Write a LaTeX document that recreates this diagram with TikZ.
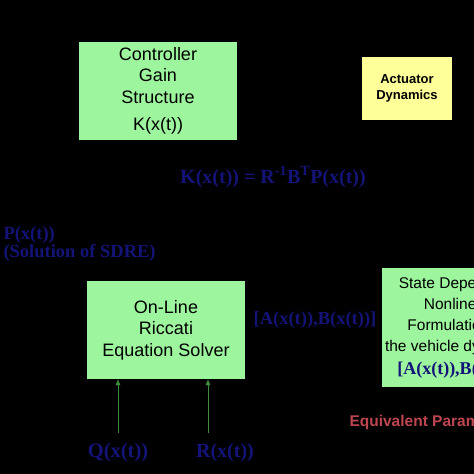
\documentclass[tikz,border=0pt]{standalone}
\usepackage{fontspec}
\setmainfont{Liberation Serif}
\newfontfamily\arial{Liberation Sans}
\usetikzlibrary{arrows.meta,positioning}
\definecolor{boxgreen}{RGB}{157,245,157}
\definecolor{boxyellow}{RGB}{255,255,153}
\definecolor{eqnavy}{RGB}{20,20,120}
\definecolor{arrgreen}{RGB}{60,140,60}
\definecolor{paramred}{RGB}{190,70,80}

\begin{document}
\begin{tikzpicture}[x=1pt,y=-1pt,
	gbox/.style={draw=none, fill=boxgreen, inner sep=0pt, align=center, font=\arial\fontsize{18}{21.5}\selectfont},
	eqtext/.style={text=eqnavy, font=\bfseries\fontsize{19.5}{19.5}\selectfont}]
	\fill[black] (0,0) rectangle (474,474);
	\clip (0,0) rectangle (474,474);
	\node (ctrl) [gbox, minimum width=158pt, minimum height=98pt] at (158,91) {Controller\\Gain\\Structure\\[6pt]K(x(t))};
	\node (act) [fill=boxyellow, inner sep=0pt, minimum width=90pt, minimum height=63pt, align=center, font=\arial\bfseries\fontsize{13}{16}\selectfont] at (407,88.5) {Actuator\\Dynamics};
	\node (gain) [eqtext, font=\bfseries\fontsize{20}{20}\selectfont] at (273,177) {K(x(t)) = R\textsuperscript{-1}B\textsuperscript{T}P(x(t))};
	\node (sol) [eqtext, anchor=west, align=left, font=\bfseries\fontsize{18.5}{18.5}\selectfont] at (0,244) {P(x(t))\\(Solution of SDRE)};
	\node (solver) [gbox, minimum width=158pt, minimum height=98pt] at (166,330) {On-Line\\Riccati\\Equation Solver};
	\node (ab) [eqtext, font=\bfseries\fontsize{18.5}{18.5}\selectfont] at (315,320) {[A(x(t)),B(x(t))]};
	\node (sdre) [gbox, minimum width=150pt, minimum height=119pt, font=\arial\fontsize{15.5}{21}\selectfont] at (457,327.5) {State Dependent\\Nonlinear\\Formulation of\\the vehicle dynamics\\[2pt]{\fontspec{Liberation Serif}\bfseries\color{eqnavy}\fontsize{18}{18}\selectfont [A(x(t)),B(x(t))]}};
	\node (q) [eqtext, font=\bfseries\fontsize{20.5}{20.5}\selectfont] at (118,453) {Q(x(t))};
	\node (r) [eqtext, font=\bfseries\fontsize{20}{20}\selectfont] at (225,453) {R(x(t))};
	\node (equiv) [anchor=west, text=paramred, font=\arial\bfseries\fontsize{15.5}{15.5}\selectfont] at (346,422) {Equivalent Parameters};
	\coordinate (qin) at (118,433);
	\coordinate (rin) at (208,433);
	\draw[arrgreen, -{Latex[length=6pt,width=5pt]}] (qin) -- (qin |- solver.south);
	\draw[arrgreen, -{Latex[length=6pt,width=5pt]}] (rin) -- (rin |- solver.south);
\end{tikzpicture}
\end{document}
